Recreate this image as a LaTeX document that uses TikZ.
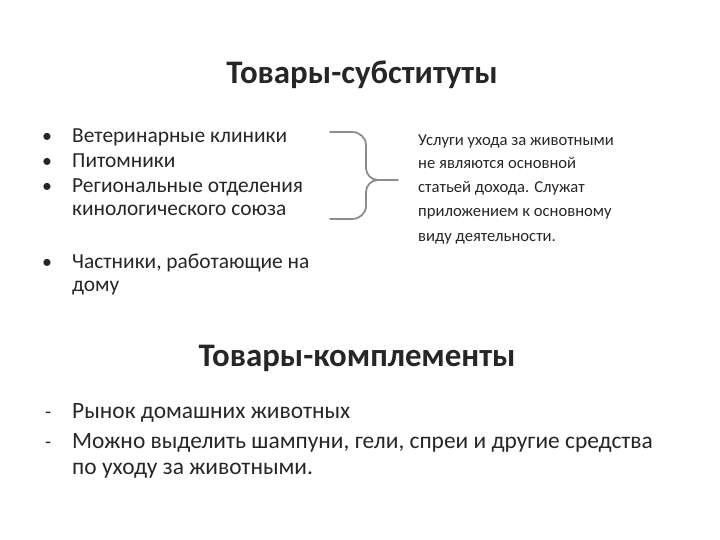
\documentclass[tikz,border=0pt]{standalone}
\usepackage{fontspec}
\setmainfont{Carlito}
\begin{document}
\begin{tikzpicture}[x=1bp,y=-1bp,
	title/.style={font=\fontsize{33}{38}\selectfont\bfseries, text=black!85},
	item/.style={anchor=base west, font=\fontsize{21.5}{25}\selectfont, text=black!85, inner sep=0},
	note/.style={anchor=base west, font=\fontsize{16.7}{19}\selectfont, text=black!85, inner sep=0},
	bullet/.style={anchor=base west, font=\fontsize{20}{24}\selectfont, text=black!85, inner sep=0},
	big/.style={font=\fontsize{23.5}{27}\selectfont}]
	\useasboundingbox (0,0) rectangle (720,540);
	
	\node[title] (subst) at (362,75) {Товары-субституты};
	
	\node[bullet] (b1) at (42,143) {•};
	\node[item] (s1) at (72,143) {Ветеринарные клиники};
	\node[bullet] (b2) at (42,168) {•};
	\node[item] (s2) at (72,168) {Питомники};
	\node[bullet] (b3) at (42,193) {•};
	\node[item] (s3) at (72,193) {Региональные отделения};
	\node[item] (s3b) at (72,216) {кинологического союза};
	\node[bullet] (b4) at (42,269) {•};
	\node[item] (s4) at (72,269) {Частники, работающие на};
	\node[item] (s4b) at (72,291) {дому};
	
	\draw[black!45, line width=1.8pt, line cap=round]
		(330,132) -- (352,132) to[out=0,in=90] (366,145) -- (366,168)
		to[out=-90,in=180] (378,180) -- (398,180);
	\draw[black!45, line width=1.8pt, line cap=round]
		(330,219) -- (352,219) to[out=0,in=-90] (366,206) -- (366,192)
		to[out=90,in=180] (378,180);
	
	\node[note] (n1) at (418,146) {Услуги ухода за животными};
	\node[note] (n2) at (418,169) {не являются основной};
	\node[note] (n3) at (418,193) {статьей дохода. Служат};
	\node[note] (n4) at (418,217) {приложением к основному};
	\node[note] (n5) at (418,242) {виду деятельности.};
	
	\node[title] (compl) at (357,358) {Товары-комплементы};
	
	\node[bullet] (d1) at (45,418) {-};
	\node[item, big] (c1) at (72,418) {Рынок домашних животных};
	\node[bullet] (d2) at (45,448) {-};
	\node[item, big] (c2) at (72,448) {Можно выделить шампуни, гели, спреи и другие средства};
	\node[item, big] (c2b) at (72,474) {по уходу за животными.};
\end{tikzpicture}
\end{document}
